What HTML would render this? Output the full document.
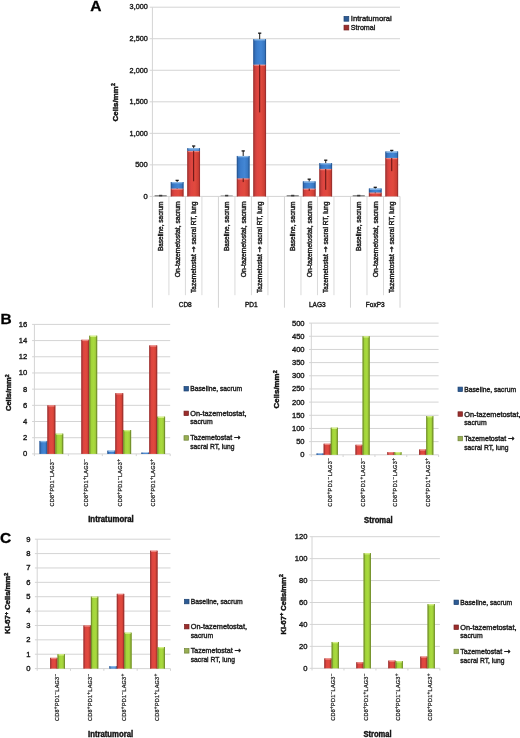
<!DOCTYPE html><html><head><meta charset="utf-8"><title>Figure</title><style>html,body{margin:0;padding:0;background:#fff;overflow:hidden;}svg{display:block;}text{font-family:"Liberation Sans", Arial, sans-serif;}</style></head><body>
<svg width="520" height="738" viewBox="0 0 520 738">
<defs>
<linearGradient id="gr" x1="0" x2="1" y1="0" y2="0"><stop offset="0" stop-color="#b83a38"/><stop offset="0.3" stop-color="#df4540"/><stop offset="0.6" stop-color="#e14a3e"/><stop offset="1" stop-color="#c2382f"/></linearGradient>
<linearGradient id="gb" x1="0" x2="1" y1="0" y2="0"><stop offset="0" stop-color="#2f66ad"/><stop offset="0.3" stop-color="#3b7dcc"/><stop offset="0.6" stop-color="#4386d4"/><stop offset="1" stop-color="#3270b8"/></linearGradient>
<linearGradient id="gg" x1="0" x2="1" y1="0" y2="0"><stop offset="0" stop-color="#88ae30"/><stop offset="0.3" stop-color="#a3d63a"/><stop offset="0.6" stop-color="#a9da3e"/><stop offset="1" stop-color="#90b834"/></linearGradient>
</defs>
<rect width="520" height="738" fill="#fff"/>
<text x="90.20" y="10.80" font-size="15.5" text-anchor="start" font-weight="bold" fill="#000" stroke="#000" stroke-width="0.3">A</text>
<text x="0.40" y="323.50" font-size="15.5" text-anchor="start" font-weight="bold" fill="#000" stroke="#000" stroke-width="0.3">B</text>
<text x="0.00" y="543.10" font-size="15.5" text-anchor="start" font-weight="bold" fill="#000" stroke="#000" stroke-width="0.3">C</text>
<line x1="149.60" y1="196.40" x2="400.00" y2="196.40" stroke="#d4d4d4" stroke-width="1"/>
<text x="147.80" y="198.70" font-size="7.6" text-anchor="end" fill="#1e1e1e" stroke="#1e1e1e" stroke-width="0.4">0</text>
<line x1="149.60" y1="164.87" x2="400.00" y2="164.87" stroke="#d4d4d4" stroke-width="1"/>
<text x="147.80" y="167.17" font-size="7.6" text-anchor="end" fill="#1e1e1e" stroke="#1e1e1e" stroke-width="0.4">500</text>
<line x1="149.60" y1="133.33" x2="400.00" y2="133.33" stroke="#d4d4d4" stroke-width="1"/>
<text x="147.80" y="135.63" font-size="7.6" text-anchor="end" textLength="18.20" lengthAdjust="spacingAndGlyphs" fill="#1e1e1e" stroke="#1e1e1e" stroke-width="0.4">1,000</text>
<line x1="149.60" y1="101.80" x2="400.00" y2="101.80" stroke="#d4d4d4" stroke-width="1"/>
<text x="147.80" y="104.09" font-size="7.6" text-anchor="end" textLength="18.20" lengthAdjust="spacingAndGlyphs" fill="#1e1e1e" stroke="#1e1e1e" stroke-width="0.4">1,500</text>
<line x1="149.60" y1="70.26" x2="400.00" y2="70.26" stroke="#d4d4d4" stroke-width="1"/>
<text x="147.80" y="72.56" font-size="7.6" text-anchor="end" textLength="18.20" lengthAdjust="spacingAndGlyphs" fill="#1e1e1e" stroke="#1e1e1e" stroke-width="0.4">2,000</text>
<line x1="149.60" y1="38.72" x2="400.00" y2="38.72" stroke="#d4d4d4" stroke-width="1"/>
<text x="147.80" y="41.02" font-size="7.6" text-anchor="end" textLength="18.20" lengthAdjust="spacingAndGlyphs" fill="#1e1e1e" stroke="#1e1e1e" stroke-width="0.4">2,500</text>
<line x1="149.60" y1="7.19" x2="400.00" y2="7.19" stroke="#d4d4d4" stroke-width="1"/>
<text x="147.80" y="9.49" font-size="7.6" text-anchor="end" textLength="18.20" lengthAdjust="spacingAndGlyphs" fill="#1e1e1e" stroke="#1e1e1e" stroke-width="0.4">3,000</text>
<line x1="152.40" y1="7.19" x2="152.40" y2="196.40" stroke="#d4d4d4" stroke-width="1"/>
<line x1="152.40" y1="196.40" x2="152.40" y2="307.70" stroke="#d4d4d4" stroke-width="1"/>
<line x1="168.91" y1="196.40" x2="168.91" y2="295.20" stroke="#dadada" stroke-width="1"/>
<line x1="185.41" y1="196.40" x2="185.41" y2="295.20" stroke="#dadada" stroke-width="1"/>
<line x1="201.92" y1="196.40" x2="201.92" y2="295.20" stroke="#dadada" stroke-width="1"/>
<line x1="218.43" y1="196.40" x2="218.43" y2="307.70" stroke="#d4d4d4" stroke-width="1"/>
<line x1="234.93" y1="196.40" x2="234.93" y2="295.20" stroke="#dadada" stroke-width="1"/>
<line x1="251.44" y1="196.40" x2="251.44" y2="295.20" stroke="#dadada" stroke-width="1"/>
<line x1="267.95" y1="196.40" x2="267.95" y2="295.20" stroke="#dadada" stroke-width="1"/>
<line x1="284.45" y1="196.40" x2="284.45" y2="307.70" stroke="#d4d4d4" stroke-width="1"/>
<line x1="300.96" y1="196.40" x2="300.96" y2="295.20" stroke="#dadada" stroke-width="1"/>
<line x1="317.47" y1="196.40" x2="317.47" y2="295.20" stroke="#dadada" stroke-width="1"/>
<line x1="333.97" y1="196.40" x2="333.97" y2="295.20" stroke="#dadada" stroke-width="1"/>
<line x1="350.48" y1="196.40" x2="350.48" y2="307.70" stroke="#d4d4d4" stroke-width="1"/>
<line x1="366.99" y1="196.40" x2="366.99" y2="295.20" stroke="#dadada" stroke-width="1"/>
<line x1="383.49" y1="196.40" x2="383.49" y2="295.20" stroke="#dadada" stroke-width="1"/>
<line x1="400.00" y1="196.40" x2="400.00" y2="307.70" stroke="#d4d4d4" stroke-width="1"/>
<rect x="170.81" y="188.52" width="12.70" height="7.88" fill="url(#gr)"/>
<rect x="170.81" y="188.52" width="1.0" height="7.88" fill="#96302f" opacity="0.85"/>
<rect x="182.41" y="188.52" width="1.1" height="7.88" fill="#96302f" opacity="0.85"/>
<rect x="171.71" y="188.52" width="10.90" height="1.3" fill="#f29a94" opacity="0.75"/>
<rect x="170.81" y="182.02" width="12.70" height="6.50" fill="url(#gb)"/>
<rect x="170.81" y="182.02" width="1.0" height="6.50" fill="#27558f" opacity="0.85"/>
<rect x="182.41" y="182.02" width="1.1" height="6.50" fill="#27558f" opacity="0.85"/>
<rect x="171.71" y="182.02" width="10.90" height="1.3" fill="#a6cdf2" opacity="0.75"/>
<line x1="177.16" y1="180.38" x2="177.16" y2="182.02" stroke="#1a1a1a" stroke-width="1"/>
<line x1="175.56" y1="180.38" x2="178.76" y2="180.38" stroke="#151515" stroke-width="1.3"/>
<line x1="177.16" y1="188.52" x2="177.16" y2="188.96" stroke="#5e1212" stroke-width="1"/>
<rect x="187.32" y="150.80" width="12.70" height="45.60" fill="url(#gr)"/>
<rect x="187.32" y="150.80" width="1.0" height="45.60" fill="#96302f" opacity="0.85"/>
<rect x="198.92" y="150.80" width="1.1" height="45.60" fill="#96302f" opacity="0.85"/>
<rect x="188.22" y="150.80" width="10.90" height="1.3" fill="#f29a94" opacity="0.75"/>
<rect x="187.32" y="148.21" width="12.70" height="2.59" fill="url(#gb)"/>
<rect x="187.32" y="148.21" width="1.0" height="2.59" fill="#27558f" opacity="0.85"/>
<rect x="198.92" y="148.21" width="1.1" height="2.59" fill="#27558f" opacity="0.85"/>
<rect x="188.22" y="148.21" width="10.90" height="1.3" fill="#a6cdf2" opacity="0.75"/>
<line x1="193.67" y1="146.01" x2="193.67" y2="148.21" stroke="#1a1a1a" stroke-width="1"/>
<line x1="192.07" y1="146.01" x2="195.27" y2="146.01" stroke="#151515" stroke-width="1.3"/>
<line x1="193.67" y1="150.80" x2="193.67" y2="181.26" stroke="#5e1212" stroke-width="1"/>
<rect x="236.84" y="178.30" width="12.70" height="18.10" fill="url(#gr)"/>
<rect x="236.84" y="178.30" width="1.0" height="18.10" fill="#96302f" opacity="0.85"/>
<rect x="248.44" y="178.30" width="1.1" height="18.10" fill="#96302f" opacity="0.85"/>
<rect x="237.74" y="178.30" width="10.90" height="1.3" fill="#f29a94" opacity="0.75"/>
<rect x="236.84" y="155.97" width="12.70" height="22.33" fill="url(#gb)"/>
<rect x="236.84" y="155.97" width="1.0" height="22.33" fill="#27558f" opacity="0.85"/>
<rect x="248.44" y="155.97" width="1.1" height="22.33" fill="#27558f" opacity="0.85"/>
<rect x="237.74" y="155.97" width="10.90" height="1.3" fill="#a6cdf2" opacity="0.75"/>
<line x1="243.19" y1="150.93" x2="243.19" y2="155.97" stroke="#1a1a1a" stroke-width="1"/>
<line x1="241.59" y1="150.93" x2="244.79" y2="150.93" stroke="#151515" stroke-width="1.3"/>
<line x1="243.19" y1="178.30" x2="243.19" y2="182.08" stroke="#5e1212" stroke-width="1"/>
<rect x="253.34" y="64.58" width="12.70" height="131.82" fill="url(#gr)"/>
<rect x="253.34" y="64.58" width="1.0" height="131.82" fill="#96302f" opacity="0.85"/>
<rect x="264.94" y="64.58" width="1.1" height="131.82" fill="#96302f" opacity="0.85"/>
<rect x="254.24" y="64.58" width="10.90" height="1.3" fill="#f29a94" opacity="0.75"/>
<rect x="253.34" y="39.17" width="12.70" height="25.42" fill="url(#gb)"/>
<rect x="253.34" y="39.17" width="1.0" height="25.42" fill="#27558f" opacity="0.85"/>
<rect x="264.94" y="39.17" width="1.1" height="25.42" fill="#27558f" opacity="0.85"/>
<rect x="254.24" y="39.17" width="10.90" height="1.3" fill="#a6cdf2" opacity="0.75"/>
<line x1="259.69" y1="33.17" x2="259.69" y2="39.17" stroke="#1a1a1a" stroke-width="1"/>
<line x1="258.09" y1="33.17" x2="261.29" y2="33.17" stroke="#151515" stroke-width="1.3"/>
<line x1="259.69" y1="64.58" x2="259.69" y2="112.39" stroke="#5e1212" stroke-width="1"/>
<rect x="302.86" y="188.58" width="12.70" height="7.82" fill="url(#gr)"/>
<rect x="302.86" y="188.58" width="1.0" height="7.82" fill="#96302f" opacity="0.85"/>
<rect x="314.46" y="188.58" width="1.1" height="7.82" fill="#96302f" opacity="0.85"/>
<rect x="303.76" y="188.58" width="10.90" height="1.3" fill="#f29a94" opacity="0.75"/>
<rect x="302.86" y="181.39" width="12.70" height="7.19" fill="url(#gb)"/>
<rect x="302.86" y="181.39" width="1.0" height="7.19" fill="#27558f" opacity="0.85"/>
<rect x="314.46" y="181.39" width="1.1" height="7.19" fill="#27558f" opacity="0.85"/>
<rect x="303.76" y="181.39" width="10.90" height="1.3" fill="#a6cdf2" opacity="0.75"/>
<line x1="309.21" y1="179.18" x2="309.21" y2="181.39" stroke="#1a1a1a" stroke-width="1"/>
<line x1="307.61" y1="179.18" x2="310.81" y2="179.18" stroke="#151515" stroke-width="1.3"/>
<line x1="309.21" y1="188.58" x2="309.21" y2="190.79" stroke="#5e1212" stroke-width="1"/>
<rect x="319.37" y="168.90" width="12.70" height="27.50" fill="url(#gr)"/>
<rect x="319.37" y="168.90" width="1.0" height="27.50" fill="#96302f" opacity="0.85"/>
<rect x="330.97" y="168.90" width="1.1" height="27.50" fill="#96302f" opacity="0.85"/>
<rect x="320.27" y="168.90" width="10.90" height="1.3" fill="#f29a94" opacity="0.75"/>
<rect x="319.37" y="163.10" width="12.70" height="5.80" fill="url(#gb)"/>
<rect x="319.37" y="163.10" width="1.0" height="5.80" fill="#27558f" opacity="0.85"/>
<rect x="330.97" y="163.10" width="1.1" height="5.80" fill="#27558f" opacity="0.85"/>
<rect x="320.27" y="163.10" width="10.90" height="1.3" fill="#a6cdf2" opacity="0.75"/>
<line x1="325.72" y1="160.20" x2="325.72" y2="163.10" stroke="#1a1a1a" stroke-width="1"/>
<line x1="324.12" y1="160.20" x2="327.32" y2="160.20" stroke="#151515" stroke-width="1.3"/>
<line x1="325.72" y1="168.90" x2="325.72" y2="189.78" stroke="#5e1212" stroke-width="1"/>
<rect x="368.89" y="192.49" width="12.70" height="3.91" fill="url(#gr)"/>
<rect x="368.89" y="192.49" width="1.0" height="3.91" fill="#96302f" opacity="0.85"/>
<rect x="380.49" y="192.49" width="1.1" height="3.91" fill="#96302f" opacity="0.85"/>
<rect x="369.79" y="192.49" width="10.90" height="1.3" fill="#f29a94" opacity="0.75"/>
<rect x="368.89" y="188.52" width="12.70" height="3.97" fill="url(#gb)"/>
<rect x="368.89" y="188.52" width="1.0" height="3.97" fill="#27558f" opacity="0.85"/>
<rect x="380.49" y="188.52" width="1.1" height="3.97" fill="#27558f" opacity="0.85"/>
<rect x="369.79" y="188.52" width="10.90" height="1.3" fill="#a6cdf2" opacity="0.75"/>
<line x1="375.24" y1="187.32" x2="375.24" y2="188.52" stroke="#1a1a1a" stroke-width="1"/>
<line x1="373.64" y1="187.32" x2="376.84" y2="187.32" stroke="#151515" stroke-width="1.3"/>
<line x1="375.24" y1="192.49" x2="375.24" y2="193.25" stroke="#5e1212" stroke-width="1"/>
<rect x="385.40" y="157.93" width="12.70" height="38.47" fill="url(#gr)"/>
<rect x="385.40" y="157.93" width="1.0" height="38.47" fill="#96302f" opacity="0.85"/>
<rect x="397.00" y="157.93" width="1.1" height="38.47" fill="#96302f" opacity="0.85"/>
<rect x="386.30" y="157.93" width="10.90" height="1.3" fill="#f29a94" opacity="0.75"/>
<rect x="385.40" y="151.49" width="12.70" height="6.43" fill="url(#gb)"/>
<rect x="385.40" y="151.49" width="1.0" height="6.43" fill="#27558f" opacity="0.85"/>
<rect x="397.00" y="151.49" width="1.1" height="6.43" fill="#27558f" opacity="0.85"/>
<rect x="386.30" y="151.49" width="10.90" height="1.3" fill="#a6cdf2" opacity="0.75"/>
<line x1="391.75" y1="150.42" x2="391.75" y2="151.49" stroke="#1a1a1a" stroke-width="1"/>
<line x1="390.15" y1="150.42" x2="393.35" y2="150.42" stroke="#151515" stroke-width="1.3"/>
<line x1="391.75" y1="157.93" x2="391.75" y2="171.17" stroke="#5e1212" stroke-width="1"/>
<rect x="154.60" y="195.1" width="12.10" height="1.3" fill="#858585"/>
<rect x="159.05" y="194.8" width="3.2" height="1.6" fill="#3a3a3a"/>
<rect x="220.63" y="195.1" width="12.10" height="1.3" fill="#b4b4b4"/>
<rect x="225.08" y="194.8" width="3.2" height="1.6" fill="#3a3a3a"/>
<rect x="286.66" y="195.1" width="12.10" height="1.3" fill="#858585"/>
<rect x="291.11" y="194.8" width="3.2" height="1.6" fill="#3a3a3a"/>
<rect x="352.68" y="195.1" width="12.10" height="1.3" fill="#858585"/>
<rect x="357.13" y="194.8" width="3.2" height="1.6" fill="#3a3a3a"/>
<text transform="translate(163.15,201.50) rotate(-90)" font-size="6.6" text-anchor="end" textLength="49.60" lengthAdjust="spacingAndGlyphs" fill="#1e1e1e" stroke="#1e1e1e" stroke-width="0.4">Baseline, sacrum</text>
<text transform="translate(179.66,201.50) rotate(-90)" font-size="6.6" text-anchor="end" textLength="75.70" lengthAdjust="spacingAndGlyphs" fill="#1e1e1e" stroke="#1e1e1e" stroke-width="0.4">On-tazemetostat, sacrum</text>
<text transform="translate(196.17,201.50) rotate(-90)" font-size="6.6" text-anchor="end" textLength="91.50" lengthAdjust="spacingAndGlyphs" fill="#1e1e1e" stroke="#1e1e1e" stroke-width="0.4">Tazemetostat <tspan font-family="DejaVu Sans" stroke-width="0.45" font-size="1.1em">→</tspan> sacral RT, lung</text>
<text transform="translate(229.18,201.50) rotate(-90)" font-size="6.6" text-anchor="end" textLength="49.60" lengthAdjust="spacingAndGlyphs" fill="#1e1e1e" stroke="#1e1e1e" stroke-width="0.4">Baseline, sacrum</text>
<text transform="translate(245.69,201.50) rotate(-90)" font-size="6.6" text-anchor="end" textLength="75.70" lengthAdjust="spacingAndGlyphs" fill="#1e1e1e" stroke="#1e1e1e" stroke-width="0.4">On-tazemetostat, sacrum</text>
<text transform="translate(262.19,201.50) rotate(-90)" font-size="6.6" text-anchor="end" textLength="91.50" lengthAdjust="spacingAndGlyphs" fill="#1e1e1e" stroke="#1e1e1e" stroke-width="0.4">Tazemetostat <tspan font-family="DejaVu Sans" stroke-width="0.45" font-size="1.1em">→</tspan> sacral RT, lung</text>
<text transform="translate(295.21,201.50) rotate(-90)" font-size="6.6" text-anchor="end" textLength="49.60" lengthAdjust="spacingAndGlyphs" fill="#1e1e1e" stroke="#1e1e1e" stroke-width="0.4">Baseline, sacrum</text>
<text transform="translate(311.71,201.50) rotate(-90)" font-size="6.6" text-anchor="end" textLength="75.70" lengthAdjust="spacingAndGlyphs" fill="#1e1e1e" stroke="#1e1e1e" stroke-width="0.4">On-tazemetostat, sacrum</text>
<text transform="translate(328.22,201.50) rotate(-90)" font-size="6.6" text-anchor="end" textLength="91.50" lengthAdjust="spacingAndGlyphs" fill="#1e1e1e" stroke="#1e1e1e" stroke-width="0.4">Tazemetostat <tspan font-family="DejaVu Sans" stroke-width="0.45" font-size="1.1em">→</tspan> sacral RT, lung</text>
<text transform="translate(361.23,201.50) rotate(-90)" font-size="6.6" text-anchor="end" textLength="49.60" lengthAdjust="spacingAndGlyphs" fill="#1e1e1e" stroke="#1e1e1e" stroke-width="0.4">Baseline, sacrum</text>
<text transform="translate(377.74,201.50) rotate(-90)" font-size="6.6" text-anchor="end" textLength="75.70" lengthAdjust="spacingAndGlyphs" fill="#1e1e1e" stroke="#1e1e1e" stroke-width="0.4">On-tazemetostat, sacrum</text>
<text transform="translate(394.25,201.50) rotate(-90)" font-size="6.6" text-anchor="end" textLength="91.50" lengthAdjust="spacingAndGlyphs" fill="#1e1e1e" stroke="#1e1e1e" stroke-width="0.4">Tazemetostat <tspan font-family="DejaVu Sans" stroke-width="0.45" font-size="1.1em">→</tspan> sacral RT, lung</text>
<text x="185.20" y="306.90" font-size="6.5" text-anchor="middle" fill="#1e1e1e" stroke="#1e1e1e" stroke-width="0.4">CD8</text>
<text x="251.30" y="306.90" font-size="6.5" text-anchor="middle" fill="#1e1e1e" stroke="#1e1e1e" stroke-width="0.4">PD1</text>
<text x="317.30" y="306.90" font-size="6.5" text-anchor="middle" fill="#1e1e1e" stroke="#1e1e1e" stroke-width="0.4">LAG3</text>
<text x="375.20" y="306.90" font-size="6.5" text-anchor="middle" fill="#1e1e1e" stroke="#1e1e1e" stroke-width="0.4">FoxP3</text>
<text transform="translate(117.60,121.50) rotate(-90)" font-size="7.7" text-anchor="start" font-weight="bold" textLength="38.30" lengthAdjust="spacingAndGlyphs" fill="#111" stroke="#111" stroke-width="0.4">Cells/mm<tspan font-size="5.0" dy="-2.6">2</tspan></text>
<rect x="344.00" y="16.40" width="4.8" height="4.8" fill="#2d5b94" stroke="#1d4270" stroke-width="0.7"/>
<rect x="344.00" y="25.20" width="4.8" height="4.8" fill="#9c2e2c" stroke="#742020" stroke-width="0.7"/>
<text x="350.80" y="21.40" font-size="7.4" text-anchor="start" textLength="41.00" lengthAdjust="spacingAndGlyphs" fill="#1e1e1e" stroke="#1e1e1e" stroke-width="0.4">Intratumoral</text>
<text x="350.80" y="30.10" font-size="7.4" text-anchor="start" textLength="24.50" lengthAdjust="spacingAndGlyphs" fill="#1e1e1e" stroke="#1e1e1e" stroke-width="0.4">Stromal</text>
<line x1="32.10" y1="453.90" x2="170.20" y2="453.90" stroke="#d4d4d4" stroke-width="1"/>
<text x="27.30" y="456.30" font-size="7.6" text-anchor="end" fill="#1e1e1e" stroke="#1e1e1e" stroke-width="0.4">0</text>
<line x1="32.10" y1="437.71" x2="170.20" y2="437.71" stroke="#d4d4d4" stroke-width="1"/>
<text x="27.30" y="440.11" font-size="7.6" text-anchor="end" fill="#1e1e1e" stroke="#1e1e1e" stroke-width="0.4">2</text>
<line x1="32.10" y1="421.52" x2="170.20" y2="421.52" stroke="#d4d4d4" stroke-width="1"/>
<text x="27.30" y="423.92" font-size="7.6" text-anchor="end" fill="#1e1e1e" stroke="#1e1e1e" stroke-width="0.4">4</text>
<line x1="32.10" y1="405.34" x2="170.20" y2="405.34" stroke="#d4d4d4" stroke-width="1"/>
<text x="27.30" y="407.74" font-size="7.6" text-anchor="end" fill="#1e1e1e" stroke="#1e1e1e" stroke-width="0.4">6</text>
<line x1="32.10" y1="389.15" x2="170.20" y2="389.15" stroke="#d4d4d4" stroke-width="1"/>
<text x="27.30" y="391.55" font-size="7.6" text-anchor="end" fill="#1e1e1e" stroke="#1e1e1e" stroke-width="0.4">8</text>
<line x1="32.10" y1="372.96" x2="170.20" y2="372.96" stroke="#d4d4d4" stroke-width="1"/>
<text x="27.30" y="375.36" font-size="7.6" text-anchor="end" fill="#1e1e1e" stroke="#1e1e1e" stroke-width="0.4">10</text>
<line x1="32.10" y1="356.77" x2="170.20" y2="356.77" stroke="#d4d4d4" stroke-width="1"/>
<text x="27.30" y="359.17" font-size="7.6" text-anchor="end" fill="#1e1e1e" stroke="#1e1e1e" stroke-width="0.4">12</text>
<line x1="32.10" y1="340.59" x2="170.20" y2="340.59" stroke="#d4d4d4" stroke-width="1"/>
<text x="27.30" y="342.99" font-size="7.6" text-anchor="end" fill="#1e1e1e" stroke="#1e1e1e" stroke-width="0.4">14</text>
<line x1="32.10" y1="324.40" x2="170.20" y2="324.40" stroke="#d4d4d4" stroke-width="1"/>
<text x="27.30" y="326.80" font-size="7.6" text-anchor="end" fill="#1e1e1e" stroke="#1e1e1e" stroke-width="0.4">16</text>
<line x1="34.40" y1="324.40" x2="34.40" y2="453.90" stroke="#d4d4d4" stroke-width="1"/>
<line x1="34.40" y1="453.90" x2="34.40" y2="456.10" stroke="#d4d4d4" stroke-width="1"/>
<line x1="68.35" y1="453.90" x2="68.35" y2="456.10" stroke="#d4d4d4" stroke-width="1"/>
<line x1="102.30" y1="453.90" x2="102.30" y2="456.10" stroke="#d4d4d4" stroke-width="1"/>
<line x1="136.25" y1="453.90" x2="136.25" y2="456.10" stroke="#d4d4d4" stroke-width="1"/>
<line x1="170.20" y1="453.90" x2="170.20" y2="456.10" stroke="#d4d4d4" stroke-width="1"/>
<rect x="39.52" y="440.95" width="7.90" height="12.95" fill="url(#gb)"/>
<rect x="39.52" y="440.95" width="1.0" height="12.95" fill="#27558f" opacity="0.85"/>
<rect x="46.32" y="440.95" width="1.1" height="12.95" fill="#27558f" opacity="0.85"/>
<rect x="40.42" y="440.95" width="6.10" height="1.3" fill="#a6cdf2" opacity="0.75"/>
<rect x="47.42" y="405.34" width="7.90" height="48.56" fill="url(#gr)"/>
<rect x="47.42" y="405.34" width="1.0" height="48.56" fill="#96302f" opacity="0.85"/>
<rect x="54.22" y="405.34" width="1.1" height="48.56" fill="#96302f" opacity="0.85"/>
<rect x="48.32" y="405.34" width="6.10" height="1.3" fill="#f29a94" opacity="0.75"/>
<rect x="55.33" y="433.67" width="7.90" height="20.23" fill="url(#gg)"/>
<rect x="55.33" y="433.67" width="1.0" height="20.23" fill="#6f8a2a" opacity="0.85"/>
<rect x="62.12" y="433.67" width="1.1" height="20.23" fill="#6f8a2a" opacity="0.85"/>
<rect x="56.23" y="433.67" width="6.10" height="1.3" fill="#e6f8a0" opacity="0.75"/>
<rect x="81.37" y="339.78" width="7.90" height="114.12" fill="url(#gr)"/>
<rect x="81.37" y="339.78" width="1.0" height="114.12" fill="#96302f" opacity="0.85"/>
<rect x="88.17" y="339.78" width="1.1" height="114.12" fill="#96302f" opacity="0.85"/>
<rect x="82.27" y="339.78" width="6.10" height="1.3" fill="#f29a94" opacity="0.75"/>
<rect x="89.27" y="335.73" width="7.90" height="118.17" fill="url(#gg)"/>
<rect x="89.27" y="335.73" width="1.0" height="118.17" fill="#6f8a2a" opacity="0.85"/>
<rect x="96.08" y="335.73" width="1.1" height="118.17" fill="#6f8a2a" opacity="0.85"/>
<rect x="90.17" y="335.73" width="6.10" height="1.3" fill="#e6f8a0" opacity="0.75"/>
<rect x="107.42" y="450.66" width="7.90" height="3.24" fill="url(#gb)"/>
<rect x="107.42" y="450.66" width="1.0" height="3.24" fill="#27558f" opacity="0.85"/>
<rect x="114.22" y="450.66" width="1.1" height="3.24" fill="#27558f" opacity="0.85"/>
<rect x="108.32" y="450.66" width="6.10" height="1.3" fill="#a6cdf2" opacity="0.75"/>
<rect x="115.32" y="393.20" width="7.90" height="60.70" fill="url(#gr)"/>
<rect x="115.32" y="393.20" width="1.0" height="60.70" fill="#96302f" opacity="0.85"/>
<rect x="122.12" y="393.20" width="1.1" height="60.70" fill="#96302f" opacity="0.85"/>
<rect x="116.22" y="393.20" width="6.10" height="1.3" fill="#f29a94" opacity="0.75"/>
<rect x="123.22" y="430.02" width="7.90" height="23.88" fill="url(#gg)"/>
<rect x="123.22" y="430.02" width="1.0" height="23.88" fill="#6f8a2a" opacity="0.85"/>
<rect x="130.02" y="430.02" width="1.1" height="23.88" fill="#6f8a2a" opacity="0.85"/>
<rect x="124.12" y="430.02" width="6.10" height="1.3" fill="#e6f8a0" opacity="0.75"/>
<rect x="141.38" y="452.60" width="7.90" height="1.30" fill="url(#gb)"/>
<rect x="141.38" y="452.60" width="1.0" height="1.30" fill="#27558f" opacity="0.85"/>
<rect x="148.18" y="452.60" width="1.1" height="1.30" fill="#27558f" opacity="0.85"/>
<rect x="149.28" y="345.44" width="7.90" height="108.46" fill="url(#gr)"/>
<rect x="149.28" y="345.44" width="1.0" height="108.46" fill="#96302f" opacity="0.85"/>
<rect x="156.08" y="345.44" width="1.1" height="108.46" fill="#96302f" opacity="0.85"/>
<rect x="150.18" y="345.44" width="6.10" height="1.3" fill="#f29a94" opacity="0.75"/>
<rect x="157.17" y="416.67" width="7.90" height="37.23" fill="url(#gg)"/>
<rect x="157.17" y="416.67" width="1.0" height="37.23" fill="#6f8a2a" opacity="0.85"/>
<rect x="163.97" y="416.67" width="1.1" height="37.23" fill="#6f8a2a" opacity="0.85"/>
<rect x="158.07" y="416.67" width="6.10" height="1.3" fill="#e6f8a0" opacity="0.75"/>
<text transform="translate(54.00,506.50) rotate(-90)" font-size="5.5" text-anchor="start" textLength="47.50" lengthAdjust="spacing" fill="#1e1e1e" stroke="#1e1e1e" stroke-width="0.22">CD8<tspan font-size="4.8" dy="-2.0">+</tspan><tspan dy="2.0">PD1</tspan><tspan font-size="4.8" dy="-2.0">−</tspan><tspan dy="2.0">LAG3</tspan><tspan font-size="4.8" dy="-2.0">−</tspan></text>
<text transform="translate(87.75,506.50) rotate(-90)" font-size="5.5" text-anchor="start" textLength="47.50" lengthAdjust="spacing" fill="#1e1e1e" stroke="#1e1e1e" stroke-width="0.22">CD8<tspan font-size="4.8" dy="-2.0">+</tspan><tspan dy="2.0">PD1</tspan><tspan font-size="4.8" dy="-2.0">+</tspan><tspan dy="2.0">LAG3</tspan><tspan font-size="4.8" dy="-2.0">−</tspan></text>
<text transform="translate(122.00,506.50) rotate(-90)" font-size="5.5" text-anchor="start" textLength="47.50" lengthAdjust="spacing" fill="#1e1e1e" stroke="#1e1e1e" stroke-width="0.22">CD8<tspan font-size="4.8" dy="-2.0">+</tspan><tspan dy="2.0">PD1</tspan><tspan font-size="4.8" dy="-2.0">−</tspan><tspan dy="2.0">LAG3</tspan><tspan font-size="4.8" dy="-2.0">+</tspan></text>
<text transform="translate(155.00,506.50) rotate(-90)" font-size="5.5" text-anchor="start" textLength="47.50" lengthAdjust="spacing" fill="#1e1e1e" stroke="#1e1e1e" stroke-width="0.22">CD8<tspan font-size="4.8" dy="-2.0">+</tspan><tspan dy="2.0">PD1</tspan><tspan font-size="4.8" dy="-2.0">+</tspan><tspan dy="2.0">LAG3</tspan><tspan font-size="4.8" dy="-2.0">+</tspan></text>
<text transform="translate(11.20,411.10) rotate(-90)" font-size="7.4" text-anchor="start" font-weight="bold" textLength="36.60" lengthAdjust="spacingAndGlyphs" fill="#111" stroke="#111" stroke-width="0.4">Cells/mm<tspan font-size="5.0" dy="-2.6">2</tspan></text>
<text x="111.00" y="521.90" font-size="8.2" text-anchor="middle" font-weight="bold" textLength="45.60" lengthAdjust="spacingAndGlyphs" fill="#111" stroke="#111" stroke-width="0.4">Intratumoral</text>
<rect x="184.00" y="386.50" width="4.5" height="4.5" fill="#2d5b94" stroke="#1d4270" stroke-width="0.7"/>
<rect x="184.00" y="411.10" width="4.5" height="4.5" fill="#9c2e2c" stroke="#742020" stroke-width="0.7"/>
<rect x="184.00" y="435.70" width="4.5" height="4.5" fill="#98ae52" stroke="#6f8438" stroke-width="0.7"/>
<text x="190.20" y="391.20" font-size="7.2" text-anchor="start" textLength="52.00" lengthAdjust="spacingAndGlyphs" fill="#1e1e1e" stroke="#1e1e1e" stroke-width="0.4">Baseline, sacrum</text>
<text x="190.20" y="415.80" font-size="7.2" text-anchor="start" textLength="56.30" lengthAdjust="spacingAndGlyphs" fill="#1e1e1e" stroke="#1e1e1e" stroke-width="0.4">On-tazemetostat,</text>
<text x="190.20" y="424.20" font-size="7.2" text-anchor="start" textLength="22.40" lengthAdjust="spacingAndGlyphs" fill="#1e1e1e" stroke="#1e1e1e" stroke-width="0.4">sacrum</text>
<text x="190.20" y="440.40" font-size="7.2" text-anchor="start" textLength="50.40" lengthAdjust="spacingAndGlyphs" fill="#1e1e1e" stroke="#1e1e1e" stroke-width="0.4">Tazemetostat <tspan font-family="DejaVu Sans" stroke-width="0.45" font-size="1.1em">→</tspan></text>
<text x="190.20" y="448.80" font-size="7.2" text-anchor="start" textLength="44.30" lengthAdjust="spacingAndGlyphs" fill="#1e1e1e" stroke="#1e1e1e" stroke-width="0.4">sacral RT, lung</text>
<line x1="309.00" y1="454.80" x2="438.60" y2="454.80" stroke="#d4d4d4" stroke-width="1"/>
<text x="304.60" y="457.20" font-size="7.6" text-anchor="end" fill="#1e1e1e" stroke="#1e1e1e" stroke-width="0.4">0</text>
<line x1="309.00" y1="441.63" x2="438.60" y2="441.63" stroke="#d4d4d4" stroke-width="1"/>
<text x="304.60" y="444.03" font-size="7.6" text-anchor="end" fill="#1e1e1e" stroke="#1e1e1e" stroke-width="0.4">50</text>
<line x1="309.00" y1="428.46" x2="438.60" y2="428.46" stroke="#d4d4d4" stroke-width="1"/>
<text x="304.60" y="430.86" font-size="7.6" text-anchor="end" fill="#1e1e1e" stroke="#1e1e1e" stroke-width="0.4">100</text>
<line x1="309.00" y1="415.29" x2="438.60" y2="415.29" stroke="#d4d4d4" stroke-width="1"/>
<text x="304.60" y="417.69" font-size="7.6" text-anchor="end" fill="#1e1e1e" stroke="#1e1e1e" stroke-width="0.4">150</text>
<line x1="309.00" y1="402.12" x2="438.60" y2="402.12" stroke="#d4d4d4" stroke-width="1"/>
<text x="304.60" y="404.52" font-size="7.6" text-anchor="end" fill="#1e1e1e" stroke="#1e1e1e" stroke-width="0.4">200</text>
<line x1="309.00" y1="388.95" x2="438.60" y2="388.95" stroke="#d4d4d4" stroke-width="1"/>
<text x="304.60" y="391.35" font-size="7.6" text-anchor="end" fill="#1e1e1e" stroke="#1e1e1e" stroke-width="0.4">250</text>
<line x1="309.00" y1="375.78" x2="438.60" y2="375.78" stroke="#d4d4d4" stroke-width="1"/>
<text x="304.60" y="378.18" font-size="7.6" text-anchor="end" fill="#1e1e1e" stroke="#1e1e1e" stroke-width="0.4">300</text>
<line x1="309.00" y1="362.61" x2="438.60" y2="362.61" stroke="#d4d4d4" stroke-width="1"/>
<text x="304.60" y="365.01" font-size="7.6" text-anchor="end" fill="#1e1e1e" stroke="#1e1e1e" stroke-width="0.4">350</text>
<line x1="309.00" y1="349.44" x2="438.60" y2="349.44" stroke="#d4d4d4" stroke-width="1"/>
<text x="304.60" y="351.84" font-size="7.6" text-anchor="end" fill="#1e1e1e" stroke="#1e1e1e" stroke-width="0.4">400</text>
<line x1="309.00" y1="336.27" x2="438.60" y2="336.27" stroke="#d4d4d4" stroke-width="1"/>
<text x="304.60" y="338.67" font-size="7.6" text-anchor="end" fill="#1e1e1e" stroke="#1e1e1e" stroke-width="0.4">450</text>
<line x1="309.00" y1="323.10" x2="438.60" y2="323.10" stroke="#d4d4d4" stroke-width="1"/>
<text x="304.60" y="325.50" font-size="7.6" text-anchor="end" fill="#1e1e1e" stroke="#1e1e1e" stroke-width="0.4">500</text>
<line x1="311.30" y1="323.10" x2="311.30" y2="454.80" stroke="#d4d4d4" stroke-width="1"/>
<line x1="311.30" y1="454.80" x2="311.30" y2="457.00" stroke="#d4d4d4" stroke-width="1"/>
<line x1="343.12" y1="454.80" x2="343.12" y2="457.00" stroke="#d4d4d4" stroke-width="1"/>
<line x1="374.95" y1="454.80" x2="374.95" y2="457.00" stroke="#d4d4d4" stroke-width="1"/>
<line x1="406.78" y1="454.80" x2="406.78" y2="457.00" stroke="#d4d4d4" stroke-width="1"/>
<line x1="438.60" y1="454.80" x2="438.60" y2="457.00" stroke="#d4d4d4" stroke-width="1"/>
<rect x="316.56" y="453.48" width="7.10" height="1.32" fill="url(#gb)"/>
<rect x="316.56" y="453.48" width="1.0" height="1.32" fill="#27558f" opacity="0.85"/>
<rect x="322.56" y="453.48" width="1.1" height="1.32" fill="#27558f" opacity="0.85"/>
<rect x="323.66" y="443.74" width="7.10" height="11.06" fill="url(#gr)"/>
<rect x="323.66" y="443.74" width="1.0" height="11.06" fill="#96302f" opacity="0.85"/>
<rect x="329.66" y="443.74" width="1.1" height="11.06" fill="#96302f" opacity="0.85"/>
<rect x="324.56" y="443.74" width="5.30" height="1.3" fill="#f29a94" opacity="0.75"/>
<rect x="330.76" y="427.67" width="7.10" height="27.13" fill="url(#gg)"/>
<rect x="330.76" y="427.67" width="1.0" height="27.13" fill="#6f8a2a" opacity="0.85"/>
<rect x="336.76" y="427.67" width="1.1" height="27.13" fill="#6f8a2a" opacity="0.85"/>
<rect x="331.66" y="427.67" width="5.30" height="1.3" fill="#e6f8a0" opacity="0.75"/>
<rect x="355.49" y="444.79" width="7.10" height="10.01" fill="url(#gr)"/>
<rect x="355.49" y="444.79" width="1.0" height="10.01" fill="#96302f" opacity="0.85"/>
<rect x="361.49" y="444.79" width="1.1" height="10.01" fill="#96302f" opacity="0.85"/>
<rect x="356.39" y="444.79" width="5.30" height="1.3" fill="#f29a94" opacity="0.75"/>
<rect x="362.59" y="336.27" width="7.10" height="118.53" fill="url(#gg)"/>
<rect x="362.59" y="336.27" width="1.0" height="118.53" fill="#6f8a2a" opacity="0.85"/>
<rect x="368.59" y="336.27" width="1.1" height="118.53" fill="#6f8a2a" opacity="0.85"/>
<rect x="363.49" y="336.27" width="5.30" height="1.3" fill="#e6f8a0" opacity="0.75"/>
<rect x="387.31" y="452.17" width="7.10" height="2.63" fill="url(#gr)"/>
<rect x="387.31" y="452.17" width="1.0" height="2.63" fill="#96302f" opacity="0.85"/>
<rect x="393.31" y="452.17" width="1.1" height="2.63" fill="#96302f" opacity="0.85"/>
<rect x="388.21" y="452.17" width="5.30" height="1.3" fill="#f29a94" opacity="0.75"/>
<rect x="394.41" y="452.17" width="7.10" height="2.63" fill="url(#gg)"/>
<rect x="394.41" y="452.17" width="1.0" height="2.63" fill="#6f8a2a" opacity="0.85"/>
<rect x="400.41" y="452.17" width="1.1" height="2.63" fill="#6f8a2a" opacity="0.85"/>
<rect x="395.31" y="452.17" width="5.30" height="1.3" fill="#e6f8a0" opacity="0.75"/>
<rect x="419.14" y="449.53" width="7.10" height="5.27" fill="url(#gr)"/>
<rect x="419.14" y="449.53" width="1.0" height="5.27" fill="#96302f" opacity="0.85"/>
<rect x="425.14" y="449.53" width="1.1" height="5.27" fill="#96302f" opacity="0.85"/>
<rect x="420.04" y="449.53" width="5.30" height="1.3" fill="#f29a94" opacity="0.75"/>
<rect x="426.24" y="416.08" width="7.10" height="38.72" fill="url(#gg)"/>
<rect x="426.24" y="416.08" width="1.0" height="38.72" fill="#6f8a2a" opacity="0.85"/>
<rect x="432.24" y="416.08" width="1.1" height="38.72" fill="#6f8a2a" opacity="0.85"/>
<rect x="427.14" y="416.08" width="5.30" height="1.3" fill="#e6f8a0" opacity="0.75"/>
<text transform="translate(331.50,506.70) rotate(-90)" font-size="5.5" text-anchor="start" textLength="48.70" lengthAdjust="spacing" fill="#1e1e1e" stroke="#1e1e1e" stroke-width="0.22">CD8<tspan font-size="4.8" dy="-2.0">+</tspan><tspan dy="2.0">PD1</tspan><tspan font-size="4.8" dy="-2.0">−</tspan><tspan dy="2.0">LAG3</tspan><tspan font-size="4.8" dy="-2.0">−</tspan></text>
<text transform="translate(364.50,506.70) rotate(-90)" font-size="5.5" text-anchor="start" textLength="48.70" lengthAdjust="spacing" fill="#1e1e1e" stroke="#1e1e1e" stroke-width="0.22">CD8<tspan font-size="4.8" dy="-2.0">+</tspan><tspan dy="2.0">PD1</tspan><tspan font-size="4.8" dy="-2.0">+</tspan><tspan dy="2.0">LAG3</tspan><tspan font-size="4.8" dy="-2.0">−</tspan></text>
<text transform="translate(397.00,506.70) rotate(-90)" font-size="5.5" text-anchor="start" textLength="48.70" lengthAdjust="spacing" fill="#1e1e1e" stroke="#1e1e1e" stroke-width="0.22">CD8<tspan font-size="4.8" dy="-2.0">+</tspan><tspan dy="2.0">PD1</tspan><tspan font-size="4.8" dy="-2.0">−</tspan><tspan dy="2.0">LAG3</tspan><tspan font-size="4.8" dy="-2.0">+</tspan></text>
<text transform="translate(429.50,506.70) rotate(-90)" font-size="5.5" text-anchor="start" textLength="48.70" lengthAdjust="spacing" fill="#1e1e1e" stroke="#1e1e1e" stroke-width="0.22">CD8<tspan font-size="4.8" dy="-2.0">+</tspan><tspan dy="2.0">PD1</tspan><tspan font-size="4.8" dy="-2.0">+</tspan><tspan dy="2.0">LAG3</tspan><tspan font-size="4.8" dy="-2.0">+</tspan></text>
<text transform="translate(279.20,408.40) rotate(-90)" font-size="7.4" text-anchor="start" font-weight="bold" textLength="38.00" lengthAdjust="spacingAndGlyphs" fill="#111" stroke="#111" stroke-width="0.4">Cells/mm<tspan font-size="5.0" dy="-2.6">2</tspan></text>
<text x="378.30" y="523.20" font-size="8.2" text-anchor="middle" font-weight="bold" textLength="28.50" lengthAdjust="spacingAndGlyphs" fill="#111" stroke="#111" stroke-width="0.4">Stromal</text>
<rect x="458.00" y="387.10" width="4.5" height="4.5" fill="#2d5b94" stroke="#1d4270" stroke-width="0.7"/>
<rect x="458.00" y="411.80" width="4.5" height="4.5" fill="#9c2e2c" stroke="#742020" stroke-width="0.7"/>
<rect x="458.00" y="436.30" width="4.5" height="4.5" fill="#98ae52" stroke="#6f8438" stroke-width="0.7"/>
<text x="464.20" y="391.80" font-size="7.2" text-anchor="start" textLength="52.00" lengthAdjust="spacingAndGlyphs" fill="#1e1e1e" stroke="#1e1e1e" stroke-width="0.4">Baseline, sacrum</text>
<text x="464.20" y="416.50" font-size="7.2" text-anchor="start" textLength="56.30" lengthAdjust="spacingAndGlyphs" fill="#1e1e1e" stroke="#1e1e1e" stroke-width="0.4">On-tazemetostat,</text>
<text x="464.20" y="424.80" font-size="7.2" text-anchor="start" textLength="22.40" lengthAdjust="spacingAndGlyphs" fill="#1e1e1e" stroke="#1e1e1e" stroke-width="0.4">sacrum</text>
<text x="464.20" y="441.00" font-size="7.2" text-anchor="start" textLength="50.40" lengthAdjust="spacingAndGlyphs" fill="#1e1e1e" stroke="#1e1e1e" stroke-width="0.4">Tazemetostat <tspan font-family="DejaVu Sans" stroke-width="0.45" font-size="1.1em">→</tspan></text>
<text x="464.20" y="449.70" font-size="7.2" text-anchor="start" textLength="44.30" lengthAdjust="spacingAndGlyphs" fill="#1e1e1e" stroke="#1e1e1e" stroke-width="0.4">sacral RT, lung</text>
<line x1="34.90" y1="668.60" x2="170.50" y2="668.60" stroke="#d4d4d4" stroke-width="1"/>
<text x="30.50" y="671.00" font-size="7.6" text-anchor="end" fill="#1e1e1e" stroke="#1e1e1e" stroke-width="0.4">0</text>
<line x1="34.90" y1="654.22" x2="170.50" y2="654.22" stroke="#d4d4d4" stroke-width="1"/>
<text x="30.50" y="656.62" font-size="7.6" text-anchor="end" fill="#1e1e1e" stroke="#1e1e1e" stroke-width="0.4">1</text>
<line x1="34.90" y1="639.84" x2="170.50" y2="639.84" stroke="#d4d4d4" stroke-width="1"/>
<text x="30.50" y="642.24" font-size="7.6" text-anchor="end" fill="#1e1e1e" stroke="#1e1e1e" stroke-width="0.4">2</text>
<line x1="34.90" y1="625.47" x2="170.50" y2="625.47" stroke="#d4d4d4" stroke-width="1"/>
<text x="30.50" y="627.87" font-size="7.6" text-anchor="end" fill="#1e1e1e" stroke="#1e1e1e" stroke-width="0.4">3</text>
<line x1="34.90" y1="611.09" x2="170.50" y2="611.09" stroke="#d4d4d4" stroke-width="1"/>
<text x="30.50" y="613.49" font-size="7.6" text-anchor="end" fill="#1e1e1e" stroke="#1e1e1e" stroke-width="0.4">4</text>
<line x1="34.90" y1="596.71" x2="170.50" y2="596.71" stroke="#d4d4d4" stroke-width="1"/>
<text x="30.50" y="599.11" font-size="7.6" text-anchor="end" fill="#1e1e1e" stroke="#1e1e1e" stroke-width="0.4">5</text>
<line x1="34.90" y1="582.33" x2="170.50" y2="582.33" stroke="#d4d4d4" stroke-width="1"/>
<text x="30.50" y="584.73" font-size="7.6" text-anchor="end" fill="#1e1e1e" stroke="#1e1e1e" stroke-width="0.4">6</text>
<line x1="34.90" y1="567.96" x2="170.50" y2="567.96" stroke="#d4d4d4" stroke-width="1"/>
<text x="30.50" y="570.36" font-size="7.6" text-anchor="end" fill="#1e1e1e" stroke="#1e1e1e" stroke-width="0.4">7</text>
<line x1="34.90" y1="553.58" x2="170.50" y2="553.58" stroke="#d4d4d4" stroke-width="1"/>
<text x="30.50" y="555.98" font-size="7.6" text-anchor="end" fill="#1e1e1e" stroke="#1e1e1e" stroke-width="0.4">8</text>
<line x1="34.90" y1="539.20" x2="170.50" y2="539.20" stroke="#d4d4d4" stroke-width="1"/>
<text x="30.50" y="541.60" font-size="7.6" text-anchor="end" fill="#1e1e1e" stroke="#1e1e1e" stroke-width="0.4">9</text>
<line x1="37.20" y1="539.20" x2="37.20" y2="668.60" stroke="#d4d4d4" stroke-width="1"/>
<line x1="37.20" y1="668.60" x2="37.20" y2="670.80" stroke="#d4d4d4" stroke-width="1"/>
<line x1="70.53" y1="668.60" x2="70.53" y2="670.80" stroke="#d4d4d4" stroke-width="1"/>
<line x1="103.85" y1="668.60" x2="103.85" y2="670.80" stroke="#d4d4d4" stroke-width="1"/>
<line x1="137.18" y1="668.60" x2="137.18" y2="670.80" stroke="#d4d4d4" stroke-width="1"/>
<line x1="170.50" y1="668.60" x2="170.50" y2="670.80" stroke="#d4d4d4" stroke-width="1"/>
<rect x="50.16" y="657.82" width="7.40" height="10.78" fill="url(#gr)"/>
<rect x="50.16" y="657.82" width="1.0" height="10.78" fill="#96302f" opacity="0.85"/>
<rect x="56.46" y="657.82" width="1.1" height="10.78" fill="#96302f" opacity="0.85"/>
<rect x="51.06" y="657.82" width="5.60" height="1.3" fill="#f29a94" opacity="0.75"/>
<rect x="57.56" y="654.22" width="7.40" height="14.38" fill="url(#gg)"/>
<rect x="57.56" y="654.22" width="1.0" height="14.38" fill="#6f8a2a" opacity="0.85"/>
<rect x="63.86" y="654.22" width="1.1" height="14.38" fill="#6f8a2a" opacity="0.85"/>
<rect x="58.46" y="654.22" width="5.60" height="1.3" fill="#e6f8a0" opacity="0.75"/>
<rect x="83.49" y="625.47" width="7.40" height="43.13" fill="url(#gr)"/>
<rect x="83.49" y="625.47" width="1.0" height="43.13" fill="#96302f" opacity="0.85"/>
<rect x="89.79" y="625.47" width="1.1" height="43.13" fill="#96302f" opacity="0.85"/>
<rect x="84.39" y="625.47" width="5.60" height="1.3" fill="#f29a94" opacity="0.75"/>
<rect x="90.89" y="596.71" width="7.40" height="71.89" fill="url(#gg)"/>
<rect x="90.89" y="596.71" width="1.0" height="71.89" fill="#6f8a2a" opacity="0.85"/>
<rect x="97.19" y="596.71" width="1.1" height="71.89" fill="#6f8a2a" opacity="0.85"/>
<rect x="91.79" y="596.71" width="5.60" height="1.3" fill="#e6f8a0" opacity="0.75"/>
<rect x="109.41" y="666.16" width="7.40" height="2.44" fill="url(#gb)"/>
<rect x="109.41" y="666.16" width="1.0" height="2.44" fill="#27558f" opacity="0.85"/>
<rect x="115.71" y="666.16" width="1.1" height="2.44" fill="#27558f" opacity="0.85"/>
<rect x="110.31" y="666.16" width="5.60" height="1.3" fill="#a6cdf2" opacity="0.75"/>
<rect x="116.81" y="593.84" width="7.40" height="74.76" fill="url(#gr)"/>
<rect x="116.81" y="593.84" width="1.0" height="74.76" fill="#96302f" opacity="0.85"/>
<rect x="123.11" y="593.84" width="1.1" height="74.76" fill="#96302f" opacity="0.85"/>
<rect x="117.71" y="593.84" width="5.60" height="1.3" fill="#f29a94" opacity="0.75"/>
<rect x="124.21" y="632.66" width="7.40" height="35.94" fill="url(#gg)"/>
<rect x="124.21" y="632.66" width="1.0" height="35.94" fill="#6f8a2a" opacity="0.85"/>
<rect x="130.51" y="632.66" width="1.1" height="35.94" fill="#6f8a2a" opacity="0.85"/>
<rect x="125.11" y="632.66" width="5.60" height="1.3" fill="#e6f8a0" opacity="0.75"/>
<rect x="150.14" y="550.70" width="7.40" height="117.90" fill="url(#gr)"/>
<rect x="150.14" y="550.70" width="1.0" height="117.90" fill="#96302f" opacity="0.85"/>
<rect x="156.44" y="550.70" width="1.1" height="117.90" fill="#96302f" opacity="0.85"/>
<rect x="151.04" y="550.70" width="5.60" height="1.3" fill="#f29a94" opacity="0.75"/>
<rect x="157.54" y="647.03" width="7.40" height="21.57" fill="url(#gg)"/>
<rect x="157.54" y="647.03" width="1.0" height="21.57" fill="#6f8a2a" opacity="0.85"/>
<rect x="163.84" y="647.03" width="1.1" height="21.57" fill="#6f8a2a" opacity="0.85"/>
<rect x="158.44" y="647.03" width="5.60" height="1.3" fill="#e6f8a0" opacity="0.75"/>
<text transform="translate(59.00,720.90) rotate(-90)" font-size="5.5" text-anchor="start" textLength="47.10" lengthAdjust="spacing" fill="#1e1e1e" stroke="#1e1e1e" stroke-width="0.22">CD8<tspan font-size="4.8" dy="-2.0">+</tspan><tspan dy="2.0">PD1</tspan><tspan font-size="4.8" dy="-2.0">−</tspan><tspan dy="2.0">LAG3</tspan><tspan font-size="4.8" dy="-2.0">−</tspan></text>
<text transform="translate(92.00,720.90) rotate(-90)" font-size="5.5" text-anchor="start" textLength="47.10" lengthAdjust="spacing" fill="#1e1e1e" stroke="#1e1e1e" stroke-width="0.22">CD8<tspan font-size="4.8" dy="-2.0">+</tspan><tspan dy="2.0">PD1</tspan><tspan font-size="4.8" dy="-2.0">+</tspan><tspan dy="2.0">LAG3</tspan><tspan font-size="4.8" dy="-2.0">−</tspan></text>
<text transform="translate(125.75,720.90) rotate(-90)" font-size="5.5" text-anchor="start" textLength="47.10" lengthAdjust="spacing" fill="#1e1e1e" stroke="#1e1e1e" stroke-width="0.22">CD8<tspan font-size="4.8" dy="-2.0">+</tspan><tspan dy="2.0">PD1</tspan><tspan font-size="4.8" dy="-2.0">−</tspan><tspan dy="2.0">LAG3</tspan><tspan font-size="4.8" dy="-2.0">+</tspan></text>
<text transform="translate(159.00,720.90) rotate(-90)" font-size="5.5" text-anchor="start" textLength="47.10" lengthAdjust="spacing" fill="#1e1e1e" stroke="#1e1e1e" stroke-width="0.22">CD8<tspan font-size="4.8" dy="-2.0">+</tspan><tspan dy="2.0">PD1</tspan><tspan font-size="4.8" dy="-2.0">+</tspan><tspan dy="2.0">LAG3</tspan><tspan font-size="4.8" dy="-2.0">+</tspan></text>
<text transform="translate(10.10,633.80) rotate(-90)" font-size="6.6" text-anchor="start" font-weight="bold" textLength="61.00" lengthAdjust="spacingAndGlyphs" fill="#111" stroke="#111" stroke-width="0.4">Ki-67<tspan font-size="5.0" dy="-2.6">+</tspan><tspan dy="2.6"> Cells/mm</tspan><tspan font-size="5.0" dy="-2.6">2</tspan></text>
<text x="110.60" y="736.50" font-size="8.2" text-anchor="middle" font-weight="bold" textLength="45.10" lengthAdjust="spacingAndGlyphs" fill="#111" stroke="#111" stroke-width="0.4">Intratumoral</text>
<rect x="184.50" y="599.30" width="4.5" height="4.5" fill="#2d5b94" stroke="#1d4270" stroke-width="0.7"/>
<rect x="184.50" y="624.40" width="4.5" height="4.5" fill="#9c2e2c" stroke="#742020" stroke-width="0.7"/>
<rect x="184.50" y="648.60" width="4.5" height="4.5" fill="#98ae52" stroke="#6f8438" stroke-width="0.7"/>
<text x="190.70" y="604.00" font-size="7.2" text-anchor="start" textLength="52.00" lengthAdjust="spacingAndGlyphs" fill="#1e1e1e" stroke="#1e1e1e" stroke-width="0.4">Baseline, sacrum</text>
<text x="190.70" y="629.10" font-size="7.2" text-anchor="start" textLength="56.30" lengthAdjust="spacingAndGlyphs" fill="#1e1e1e" stroke="#1e1e1e" stroke-width="0.4">On-tazemetostat,</text>
<text x="190.70" y="637.80" font-size="7.2" text-anchor="start" textLength="22.40" lengthAdjust="spacingAndGlyphs" fill="#1e1e1e" stroke="#1e1e1e" stroke-width="0.4">sacrum</text>
<text x="190.70" y="653.30" font-size="7.2" text-anchor="start" textLength="50.40" lengthAdjust="spacingAndGlyphs" fill="#1e1e1e" stroke="#1e1e1e" stroke-width="0.4">Tazemetostat <tspan font-family="DejaVu Sans" stroke-width="0.45" font-size="1.1em">→</tspan></text>
<text x="190.70" y="662.00" font-size="7.2" text-anchor="start" textLength="44.30" lengthAdjust="spacingAndGlyphs" fill="#1e1e1e" stroke="#1e1e1e" stroke-width="0.4">sacral RT, lung</text>
<line x1="309.70" y1="668.30" x2="439.90" y2="668.30" stroke="#d4d4d4" stroke-width="1"/>
<text x="307.50" y="670.70" font-size="7.6" text-anchor="end" fill="#1e1e1e" stroke="#1e1e1e" stroke-width="0.4">0</text>
<line x1="309.70" y1="646.37" x2="439.90" y2="646.37" stroke="#d4d4d4" stroke-width="1"/>
<text x="307.50" y="648.77" font-size="7.6" text-anchor="end" fill="#1e1e1e" stroke="#1e1e1e" stroke-width="0.4">20</text>
<line x1="309.70" y1="624.43" x2="439.90" y2="624.43" stroke="#d4d4d4" stroke-width="1"/>
<text x="307.50" y="626.83" font-size="7.6" text-anchor="end" fill="#1e1e1e" stroke="#1e1e1e" stroke-width="0.4">40</text>
<line x1="309.70" y1="602.50" x2="439.90" y2="602.50" stroke="#d4d4d4" stroke-width="1"/>
<text x="307.50" y="604.90" font-size="7.6" text-anchor="end" fill="#1e1e1e" stroke="#1e1e1e" stroke-width="0.4">60</text>
<line x1="309.70" y1="580.57" x2="439.90" y2="580.57" stroke="#d4d4d4" stroke-width="1"/>
<text x="307.50" y="582.97" font-size="7.6" text-anchor="end" fill="#1e1e1e" stroke="#1e1e1e" stroke-width="0.4">80</text>
<line x1="309.70" y1="558.63" x2="439.90" y2="558.63" stroke="#d4d4d4" stroke-width="1"/>
<text x="307.50" y="561.03" font-size="7.6" text-anchor="end" fill="#1e1e1e" stroke="#1e1e1e" stroke-width="0.4">100</text>
<line x1="309.70" y1="536.70" x2="439.90" y2="536.70" stroke="#d4d4d4" stroke-width="1"/>
<text x="307.50" y="539.10" font-size="7.6" text-anchor="end" fill="#1e1e1e" stroke="#1e1e1e" stroke-width="0.4">120</text>
<line x1="312.00" y1="536.70" x2="312.00" y2="668.30" stroke="#d4d4d4" stroke-width="1"/>
<line x1="312.00" y1="668.30" x2="312.00" y2="670.50" stroke="#d4d4d4" stroke-width="1"/>
<line x1="343.98" y1="668.30" x2="343.98" y2="670.50" stroke="#d4d4d4" stroke-width="1"/>
<line x1="375.95" y1="668.30" x2="375.95" y2="670.50" stroke="#d4d4d4" stroke-width="1"/>
<line x1="407.92" y1="668.30" x2="407.92" y2="670.50" stroke="#d4d4d4" stroke-width="1"/>
<line x1="439.90" y1="668.30" x2="439.90" y2="670.50" stroke="#d4d4d4" stroke-width="1"/>
<rect x="324.34" y="658.43" width="7.30" height="9.87" fill="url(#gr)"/>
<rect x="324.34" y="658.43" width="1.0" height="9.87" fill="#96302f" opacity="0.85"/>
<rect x="330.54" y="658.43" width="1.1" height="9.87" fill="#96302f" opacity="0.85"/>
<rect x="325.24" y="658.43" width="5.50" height="1.3" fill="#f29a94" opacity="0.75"/>
<rect x="331.64" y="641.98" width="7.30" height="26.32" fill="url(#gg)"/>
<rect x="331.64" y="641.98" width="1.0" height="26.32" fill="#6f8a2a" opacity="0.85"/>
<rect x="337.84" y="641.98" width="1.1" height="26.32" fill="#6f8a2a" opacity="0.85"/>
<rect x="332.54" y="641.98" width="5.50" height="1.3" fill="#e6f8a0" opacity="0.75"/>
<rect x="356.31" y="662.27" width="7.30" height="6.03" fill="url(#gr)"/>
<rect x="356.31" y="662.27" width="1.0" height="6.03" fill="#96302f" opacity="0.85"/>
<rect x="362.51" y="662.27" width="1.1" height="6.03" fill="#96302f" opacity="0.85"/>
<rect x="357.21" y="662.27" width="5.50" height="1.3" fill="#f29a94" opacity="0.75"/>
<rect x="363.61" y="553.15" width="7.30" height="115.15" fill="url(#gg)"/>
<rect x="363.61" y="553.15" width="1.0" height="115.15" fill="#6f8a2a" opacity="0.85"/>
<rect x="369.81" y="553.15" width="1.1" height="115.15" fill="#6f8a2a" opacity="0.85"/>
<rect x="364.51" y="553.15" width="5.50" height="1.3" fill="#e6f8a0" opacity="0.75"/>
<rect x="388.29" y="660.62" width="7.30" height="7.68" fill="url(#gr)"/>
<rect x="388.29" y="660.62" width="1.0" height="7.68" fill="#96302f" opacity="0.85"/>
<rect x="394.49" y="660.62" width="1.1" height="7.68" fill="#96302f" opacity="0.85"/>
<rect x="389.19" y="660.62" width="5.50" height="1.3" fill="#f29a94" opacity="0.75"/>
<rect x="395.59" y="661.17" width="7.30" height="7.13" fill="url(#gg)"/>
<rect x="395.59" y="661.17" width="1.0" height="7.13" fill="#6f8a2a" opacity="0.85"/>
<rect x="401.79" y="661.17" width="1.1" height="7.13" fill="#6f8a2a" opacity="0.85"/>
<rect x="396.49" y="661.17" width="5.50" height="1.3" fill="#e6f8a0" opacity="0.75"/>
<rect x="420.26" y="656.57" width="7.30" height="11.73" fill="url(#gr)"/>
<rect x="420.26" y="656.57" width="1.0" height="11.73" fill="#96302f" opacity="0.85"/>
<rect x="426.46" y="656.57" width="1.1" height="11.73" fill="#96302f" opacity="0.85"/>
<rect x="421.16" y="656.57" width="5.50" height="1.3" fill="#f29a94" opacity="0.75"/>
<rect x="427.56" y="604.14" width="7.30" height="64.15" fill="url(#gg)"/>
<rect x="427.56" y="604.14" width="1.0" height="64.15" fill="#6f8a2a" opacity="0.85"/>
<rect x="433.76" y="604.14" width="1.1" height="64.15" fill="#6f8a2a" opacity="0.85"/>
<rect x="428.46" y="604.14" width="5.50" height="1.3" fill="#e6f8a0" opacity="0.75"/>
<text transform="translate(335.00,720.80) rotate(-90)" font-size="5.5" text-anchor="start" textLength="47.30" lengthAdjust="spacing" fill="#1e1e1e" stroke="#1e1e1e" stroke-width="0.22">CD8<tspan font-size="4.8" dy="-2.0">+</tspan><tspan dy="2.0">PD1</tspan><tspan font-size="4.8" dy="-2.0">−</tspan><tspan dy="2.0">LAG3</tspan><tspan font-size="4.8" dy="-2.0">−</tspan></text>
<text transform="translate(367.50,720.80) rotate(-90)" font-size="5.5" text-anchor="start" textLength="47.30" lengthAdjust="spacing" fill="#1e1e1e" stroke="#1e1e1e" stroke-width="0.22">CD8<tspan font-size="4.8" dy="-2.0">+</tspan><tspan dy="2.0">PD1</tspan><tspan font-size="4.8" dy="-2.0">+</tspan><tspan dy="2.0">LAG3</tspan><tspan font-size="4.8" dy="-2.0">−</tspan></text>
<text transform="translate(399.50,720.80) rotate(-90)" font-size="5.5" text-anchor="start" textLength="47.30" lengthAdjust="spacing" fill="#1e1e1e" stroke="#1e1e1e" stroke-width="0.22">CD8<tspan font-size="4.8" dy="-2.0">+</tspan><tspan dy="2.0">PD1</tspan><tspan font-size="4.8" dy="-2.0">−</tspan><tspan dy="2.0">LAG3</tspan><tspan font-size="4.8" dy="-2.0">+</tspan></text>
<text transform="translate(432.00,720.80) rotate(-90)" font-size="5.5" text-anchor="start" textLength="47.30" lengthAdjust="spacing" fill="#1e1e1e" stroke="#1e1e1e" stroke-width="0.22">CD8<tspan font-size="4.8" dy="-2.0">+</tspan><tspan dy="2.0">PD1</tspan><tspan font-size="4.8" dy="-2.0">+</tspan><tspan dy="2.0">LAG3</tspan><tspan font-size="4.8" dy="-2.0">+</tspan></text>
<text transform="translate(285.60,634.40) rotate(-90)" font-size="6.6" text-anchor="start" font-weight="bold" textLength="60.20" lengthAdjust="spacingAndGlyphs" fill="#111" stroke="#111" stroke-width="0.4">Ki-67<tspan font-size="5.0" dy="-2.6">+</tspan><tspan dy="2.6"> Cells/mm</tspan><tspan font-size="5.0" dy="-2.6">2</tspan></text>
<text x="377.50" y="736.60" font-size="8.2" text-anchor="middle" font-weight="bold" textLength="28.00" lengthAdjust="spacingAndGlyphs" fill="#111" stroke="#111" stroke-width="0.4">Stromal</text>
<rect x="454.00" y="600.10" width="4.5" height="4.5" fill="#2d5b94" stroke="#1d4270" stroke-width="0.7"/>
<rect x="454.00" y="625.00" width="4.5" height="4.5" fill="#9c2e2c" stroke="#742020" stroke-width="0.7"/>
<rect x="454.00" y="649.20" width="4.5" height="4.5" fill="#98ae52" stroke="#6f8438" stroke-width="0.7"/>
<text x="460.20" y="604.80" font-size="7.2" text-anchor="start" textLength="52.00" lengthAdjust="spacingAndGlyphs" fill="#1e1e1e" stroke="#1e1e1e" stroke-width="0.4">Baseline, sacrum</text>
<text x="460.20" y="629.70" font-size="7.2" text-anchor="start" textLength="56.30" lengthAdjust="spacingAndGlyphs" fill="#1e1e1e" stroke="#1e1e1e" stroke-width="0.4">On-tazemetostat,</text>
<text x="460.20" y="637.80" font-size="7.2" text-anchor="start" textLength="22.40" lengthAdjust="spacingAndGlyphs" fill="#1e1e1e" stroke="#1e1e1e" stroke-width="0.4">sacrum</text>
<text x="460.20" y="653.90" font-size="7.2" text-anchor="start" textLength="50.40" lengthAdjust="spacingAndGlyphs" fill="#1e1e1e" stroke="#1e1e1e" stroke-width="0.4">Tazemetostat <tspan font-family="DejaVu Sans" stroke-width="0.45" font-size="1.1em">→</tspan></text>
<text x="460.20" y="662.70" font-size="7.2" text-anchor="start" textLength="44.30" lengthAdjust="spacingAndGlyphs" fill="#1e1e1e" stroke="#1e1e1e" stroke-width="0.4">sacral RT, lung</text>
</svg></body></html>
